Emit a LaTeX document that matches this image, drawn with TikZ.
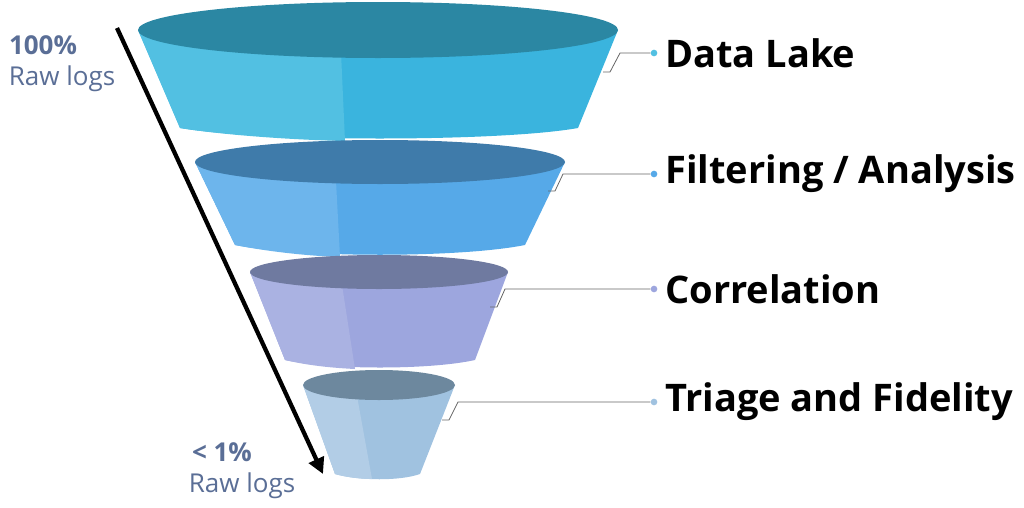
\documentclass[tikz,border=0pt]{standalone}
\usetikzlibrary{arrows.meta}
\usepackage{fontspec}
\setmainfont{Open Sans}
\begin{document}
\begin{tikzpicture}[x=0.75pt,y=-0.75pt,
  lead/.style={draw=gray!80!black,line width=0.6pt},
  dot/.style={circle,inner sep=0pt,minimum size=5pt},
  lab/.style={anchor=west,font=\bfseries\fontsize{28.5}{32}\selectfont,inner sep=0pt},
  side/.style={font=\fontsize{19.5}{23}\selectfont,text=tx,inner sep=0pt}]
\useasboundingbox (0,0) rectangle (1024,507);
\definecolor{t1}{HTML}{2B87A3}\definecolor{b1}{HTML}{3AB4DE}\definecolor{l1}{HTML}{52C0E2}
\definecolor{t2}{HTML}{3F7BAA}\definecolor{b2}{HTML}{56A9E8}\definecolor{l2}{HTML}{6DB5EC}
\definecolor{t3}{HTML}{6F7AA0}\definecolor{b3}{HTML}{9DA6DE}\definecolor{l3}{HTML}{AAB2E2}
\definecolor{t4}{HTML}{6D889E}\definecolor{b4}{HTML}{A0C2E0}\definecolor{l4}{HTML}{B2CDE6}
\definecolor{tx}{HTML}{5A6E96}
% segment 1
\fill[b1] (138,30) -- (180,128) .. controls (260,142) and (500,142) .. (578,128) -- (618,30) -- cycle;
\fill[l1] (138,30) -- (180,128) .. controls (230,136) and (300,140) .. (345,141) -- (340,30) -- cycle;
\fill[t1] (378,30) ellipse (240 and 28);
% segment 2
\fill[b2] (195,162) -- (235,245) .. controls (300,258) and (460,258) .. (525,245) -- (565,162) -- cycle;
\fill[l2] (195,162) -- (235,245) .. controls (270,252) and (310,256) .. (340,257) -- (335,162) -- cycle;
\fill[t2] (380,162) ellipse (185 and 22);
% segment 3
\fill[b3] (250,272) -- (285,360) .. controls (330,370) and (430,370) .. (475,360) -- (508,272) -- cycle;
\fill[l3] (250,272) -- (285,360) .. controls (310,366) and (335,368) .. (355,369) -- (340,272) -- cycle;
\fill[t3] (379,272) ellipse (129 and 17);
% segment 4
\fill[b4] (303,385) -- (335,474) .. controls (360,481) and (400,481) .. (420,474) -- (455,385) -- cycle;
\fill[l4] (303,385) -- (335,474) .. controls (345,477) and (360,479) .. (372,479) -- (355,385) -- cycle;
\fill[t4] (379,385) ellipse (76 and 15);
% arrow
\coordinate (as) at (117,28); \coordinate (ae) at (323,474);
\draw[line width=3.2pt,-{Triangle[length=12pt,width=12pt]}] (as) -- (ae);
% side labels
\node[side,font=\bfseries\fontsize{19.5}{23}\selectfont] (p1) at (43,45) {100\%};
\node[side] (r1) at (62,79) {Raw logs};
\node[side,font=\bfseries\fontsize{19.5}{23}\selectfont] (p2) at (222,452) {< 1\%};
\node[side] (r2) at (242,486) {Raw logs};
% leaders
\foreach \i/\ax/\ay/\bx/\by/\c/\t in {
  1/603/72/620/53/l1/{Data Lake},
  2/548/191/563/174/b2/{Filtering / Analysis},
  3/490/307/505/289/b3/{Correlation},
  4/442/420/458/402/b4/{Triage and Fidelity}}{
  \coordinate (s\i) at (\ax,\ay);
  \coordinate (k\i) at (\bx,\by);
  \node[dot,fill=\c] (d\i) at (654,\by) {};
  \node[lab] (n\i) at (665,\by) {\t};
  \draw[lead] (s\i) -- ++(7,0) -- (k\i) -- (d\i.west);
}
\end{tikzpicture}
\end{document}
